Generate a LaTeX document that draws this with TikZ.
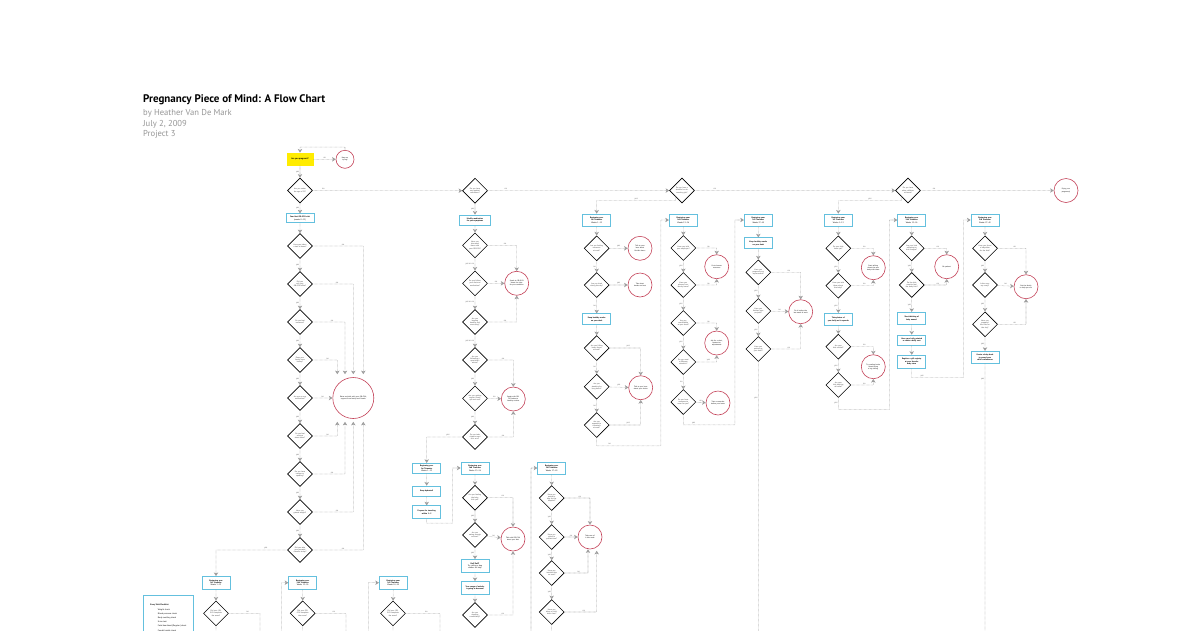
\documentclass[tikz,border=0pt]{standalone}
\usepackage{fontspec}
\setmainfont{PT Sans}
\usetikzlibrary{shapes.geometric,arrows.meta,calc}
\definecolor{cyanb}{RGB}{100,192,222}
\definecolor{redc}{RGB}{196,66,88}
\definecolor{yel}{RGB}{255,236,0}
\definecolor{lgray}{RGB}{155,155,155}
\definecolor{tipg}{RGB}{185,185,185}
\definecolor{subg}{RGB}{150,150,150}
\begin{document}
\begin{tikzpicture}[x=1pt,y=-1pt,
  dia/.style={shape=diamond, draw=black, line width=0.6pt, fill=white, minimum width=25pt, minimum height=25pt, inner sep=0pt, text width=13pt, align=center, font=\fontsize{1.9}{2.2}\selectfont, text=black!75},
  bx/.style={draw=cyanb, line width=0.8pt, fill=white, minimum width=28pt, minimum height=11pt, inner sep=0.5pt, text width=25pt, align=center, font=\fontsize{2}{2.4}\selectfont\bfseries},
  rc/.style={circle, draw=redc, line width=0.6pt, fill=white, minimum size=24pt, inner sep=0pt, text width=15pt, align=center, font=\fontsize{1.8}{2.1}\selectfont},
  ybox/.style={fill=yel, minimum width=27pt, minimum height=13pt, inner sep=0pt, font=\fontsize{2.2}{2.5}\selectfont\bfseries},
  conn/.style={draw=lgray, line width=0.55pt, line cap=round, dash pattern=on 0pt off 1.25pt, -{Stealth[length=3.6pt,width=4.4pt,inset=1pt,color=lgray,fill=tipg]}},
  plain/.style={draw=lgray, line width=0.55pt, line cap=round, dash pattern=on 0pt off 1.25pt},
  lbl/.style={font=\fontsize{2.2}{2.4}\selectfont, text=black!60, inner sep=0.6pt},
  ttl/.style={anchor=base west, inner sep=0pt, font=\fontsize{11}{12}\selectfont\bfseries},
  sub/.style={anchor=base west, inner sep=0pt, text=subg, font=\fontsize{8.6}{9}\selectfont}]
\useasboundingbox (0,0) rectangle (1200,630);
\clip (0,0) rectangle (1200,630);
\fill[white] (0,0) rectangle (1200,630);

% header
\node[ttl] (title) at (143,102.5) {Pregnancy Piece of Mind: A Flow Chart};
\node[sub] (by) at (143,115.5) {by Heather Van De Mark};
\node[sub] (date) at (143,126) {July 2, 2009};
\node[sub] (proj) at (143,136) {Project 3};

% start
\node[ybox] (s0) at (300,159.3) {Are you pregnant?};
\node[rc, minimum size=18pt, text width=11pt] (c0) at (345,159.3) {Keep on trying!};
\draw[conn] (s0) -- node[lbl,above]{no} (c0);
\draw[conn] (c0.north) |- ([yshift=5.5pt]s0.north) -- (s0.north);
\node[dia] (d0) at (300,190.5) {Are you under the age of 35?};
\draw[conn] (s0) -- node[lbl,left]{yes} (d0);
\node[bx, minimum height=9pt] (b0) at (300,218.3) {Your first OB-GYN visit\\ \mdseries (weeks 8--12)};
\draw[conn] (d0) -- node[lbl,left]{yes} (b0);

% main chain
\node[dia] (q1) at (300,246) {Have you taken a test at home?};
\node[dia] (q2) at (300,284) {Did you call your OB-GYN office?};
\node[dia] (q3) at (300,322) {Do you feel nauseous?};
\node[dia] (q4) at (300,360) {Does your family have history?};
\node[dia] (q5) at (300,398) {Are you on any medication?};
\node[dia] (q6) at (300,436) {Do you feel anxious about labor?};
\node[dia] (q7) at (300,474) {Do you have cramps or spotting?};
\node[dia] (q8) at (300,512) {Have you gained weight?};
\node[dia] (q9) at (300,550) {Did you take your prenatal vitamins today?};
\node[rc, minimum size=41pt, text width=30pt] (BC) at (353.3,398) {Relax and talk with your OB-GYN; support from family and friends};
\draw[conn] (b0) -- (q1);
\draw[conn] (q1) -- node[lbl,left]{yes} (q2);
\draw[conn] (q2) -- node[lbl,left]{yes} (q3);
\draw[conn] (q3) -- node[lbl,left]{yes} (q4);
\draw[conn] (q4) -- node[lbl,left]{yes} (q5);
\draw[conn] (q5) -- node[lbl,left]{yes} (q6);
\draw[conn] (q6) -- node[lbl,left]{yes} (q7);
\draw[conn] (q7) -- node[lbl,left]{yes} (q8);
\draw[conn] (q8) -- node[lbl,left]{yes} (q9);
\draw[conn] (q1.east) -| node[lbl,above,pos=0.3]{no} ([xshift=10pt,yshift=3pt]BC.north);
\draw[conn] (q2.east) -| node[lbl,above,pos=0.3]{no} ([yshift=3pt]BC.north);
\draw[conn] (q3.east) -| node[lbl,above,pos=0.3]{no} ([xshift=-8.3pt,yshift=3pt]BC.north);
\draw[conn] (q4.east) -| node[lbl,above,pos=0.3]{no} ([xshift=-16pt,yshift=3pt]BC.north);
\draw[conn] (q5) -- node[lbl,above]{no} (BC);
\draw[conn] (q6.east) -| node[lbl,above,pos=0.3]{no} ([xshift=-16pt,yshift=-3pt]BC.south);
\draw[conn] (q7.east) -| node[lbl,above,pos=0.3]{no} ([xshift=-8.3pt,yshift=-3pt]BC.south);
\draw[conn] (q8.east) -| node[lbl,above,pos=0.3]{no} ([yshift=-3pt]BC.south);
\draw[conn] (q9.east) -| node[lbl,above,pos=0.3]{no} ([xshift=10pt,yshift=-3pt]BC.south);

% bottom row
\node[bx, minimum height=12.5pt] (L1) at (216,582.7) {Beginning your 1st Trimester\\ \mdseries Weeks 1--13};
\node[bx, minimum height=12.5pt] (L2) at (302.7,582.7) {Beginning your 2nd Trimester\\ \mdseries Weeks 13--26};
\node[bx, minimum height=12.5pt] (L3) at (393.3,582.7) {Beginning your 3rd Trimester\\ \mdseries Weeks 26--40};
\node[dia] (LD1) at (216,613.3) {Did your OB-GYN complete the exam?};
\node[dia] (LD2) at (302.7,613.3) {Did your OB-GYN complete the exam?};
\node[dia] (LD3) at (393,613.3) {Did your OB-GYN complete the exam?};
\draw[conn] (q9.west) -| node[lbl,above,pos=0.15]{yes} (L1.north);
\draw[conn] (L1) -- (LD1);
\draw[conn] (L2) -- (LD2);
\draw[conn] (L3) -- (LD3);
\coordinate (e1) at (260,640);
\coordinate (e2) at (346,640);
\coordinate (e3) at (440,640);
\draw[plain] (LD1.east) -| node[lbl,above,pos=0.3]{no} (e1);
\draw[plain] (LD2.east) -| node[lbl,above,pos=0.3]{no} (e2);
\draw[plain] (LD3.east) -| node[lbl,above,pos=0.3]{no} (e3);
\coordinate (i2) at (281.7,640);
\coordinate (i3) at (368.3,640);
\draw[conn] (i2) |- (L2.west);
\draw[conn] (i3) |- (L3.west);
\draw[plain] (LD1.south) -- ++(0,20);
\draw[plain] (LD2.south) -- ++(0,20);
\draw[plain] (LD3.south) -- ++(0,20);
\node[draw=cyanb, line width=0.8pt, fill=white, anchor=north west, minimum width=50.5pt, minimum height=45pt, inner sep=2.3pt, align=left, font=\fontsize{2.1}{4.2}\selectfont] (LB) at (142.7,595) {\textbf{Every Visit Checklist}\\
\hspace*{7.5pt}Weight check\\
\hspace*{7.5pt}Blood pressure check\\
\hspace*{7.5pt}Body swelling check\\
\hspace*{7.5pt}Urine test\\
\hspace*{7.5pt}Fetal heartbeat (Doppler) check\\
\hspace*{7.5pt}Fundal height check};

% column T
\node[dia] (T1) at (475,190.7) {Do you have any medical conditions?};
\node[bx, minimum height=10pt, minimum width=31pt, text width=28pt] (Tb) at (475,220) {Modify medication\\for your symptoms};
\draw[conn] (d0) -- node[lbl,above,pos=0.07]{no} (T1);
\draw[conn] (T1) -- node[lbl,left]{yes} (Tb);
\node[dia] (Tq1) at (475,245.3) {Have you discussed them with your OB-GYN?};
\node[dia] (Tq2) at (475,283.3) {Do you follow your diet and medication?};
\node[dia] (Tq3) at (475,322) {Are you keeping healthy and exercising?};
\node[dia] (Tq4) at (475,360) {Are you following a specialist's advice?};
\node[dia] (Tq5) at (475,398.3) {Are you getting regular check-ups and rest?};
\node[dia] (Tq6) at (475,437) {Do you take vitamins and folic acid?};
\node[rc] (Tc1) at (516.7,283.3) {Speak to OB-GYN about the risks for your condition};
\node[rc] (Tc2) at (513.3,399) {Speak with OB-GYN about a healthy routine};
\draw[conn] (Tb) -- (Tq1);
\draw[conn] (Tq1) -- node[lbl,left]{yes or no} (Tq2);
\draw[conn] (Tq2) -- node[lbl,left]{yes or no} (Tq3);
\draw[conn] (Tq3) -- node[lbl,left]{yes or no} (Tq4);
\draw[conn] (Tq4) -- node[lbl,left]{yes} (Tq5);
\draw[conn] (Tq5) -- node[lbl,left]{yes} (Tq6);
\draw[conn] (Tq1.east) -| node[lbl,above,pos=0.3]{no} (Tc1.north);
\draw[conn] (Tq2) -- node[lbl,above]{no} (Tc1);
\draw[conn] (Tq3.east) -| node[lbl,above,pos=0.3]{no} (Tc1.south);
\draw[conn] (Tq4.east) -| node[lbl,above,pos=0.3]{no} (Tc2.north);
\draw[conn] (Tq5) -- node[lbl,above]{no} (Tc2);
\draw[conn] (Tq6.east) -| node[lbl,above,pos=0.3]{no} (Tc2.south);

% column V
\node[bx, minimum height=10pt] (V1) at (426.7,468.3) {Beginning your 1st Trimester\\ \mdseries Weeks 1--13};
\node[bx, minimum height=10pt] (V2) at (426.7,491) {Keep hydrated!};
\node[bx, minimum height=13pt] (V3) at (426.7,512.3) {Prepare for traveling\\within 1--2};
\draw[conn] (Tq6.west) -| node[lbl,above,pos=0.2]{yes} (V1.north);
\draw[conn] (V1) -- (V2);
\draw[conn] (V2) -- (V3);

% column W
\node[bx, minimum height=12pt] (W1) at (475,468) {Beginning your 2nd Trimester\\ \mdseries Weeks 13--26};
\draw[conn] (V3.south) -- ++(0,4) -| ($(W1.west)+(-8,0)$) -- (W1.west);
\node[dia] (Wq1) at (475,497.7) {Are you feeling the baby kick yet?};
\node[dia] (Wq2) at (475,535) {Are you eating enough calcium?};
\node[rc] (Wc) at (513,539) {Talk with OB-GYN about your diet};
\node[bx, minimum height=13pt] (Wb1) at (475,566) {Ruff Ruff?\\ \mdseries Try calling a dog walker for help};
\node[bx, minimum height=13pt] (Wb2) at (475,588) {Your range of activity is going to decrease};
\node[dia] (Wq3) at (475,615) {Are you sleeping comfortably?};
\draw[conn] (W1) -- (Wq1);
\draw[conn] (Wq1) -- node[lbl,left]{yes} (Wq2);
\draw[conn] (Wq2) -- node[lbl,left]{yes} (Wb1);
\draw[conn] (Wb1) -- (Wb2);
\draw[conn] (Wb2) -- (Wq3);
\draw[conn] (Wq1.east) -| node[lbl,above,pos=0.3]{no} (Wc.north);
\draw[conn] (Wq2) -- node[lbl,above]{no} (Wc);
\draw[conn] (Wq3.east) -| node[lbl,above,pos=0.3]{no} (Wc.south);

% column X
\node[bx, minimum height=12pt] (X1) at (551.7,468) {Beginning your 3rd Trimester\\ \mdseries Weeks 27--40};
\coordinate (ix) at (531,640);
\draw[conn] (ix) |- (X1.west);
\node[dia] (Xq1) at (551.7,498) {Have you packed a bag for the hospital?};
\node[dia] (Xq2) at (551.7,537) {Have you picked a pediatrician?};
\node[dia] (Xq3) at (551.7,573) {Have you installed the car seat?};
\node[dia] (Xq4) at (551.7,612) {Have you taken a childbirth class?};
\node[rc] (Xc) at (590,537) {Take care of it this week};
\draw[conn] (X1) -- (Xq1);
\draw[conn] (Xq1) -- node[lbl,left]{yes} (Xq2);
\draw[conn] (Xq2) -- node[lbl,left]{yes} (Xq3);
\draw[conn] (Xq3) -- node[lbl,left]{yes} (Xq4);
\draw[conn] (Xq1.east) -| node[lbl,above,pos=0.3]{no} (Xc.north);
\draw[conn] (Xq2) -- node[lbl,above]{no} (Xc);
\draw[conn] (Xq3.east) -| node[lbl,above,pos=0.3]{no} ([xshift=-2pt]Xc.south);
\draw[conn] (Xq4.east) -| node[lbl,above,pos=0.3]{no} ([xshift=6.7pt,yshift=-1.5pt]Xc.south);
\draw[plain] (Xq4.south) -- ++(0,20);

% top row
\node[dia] (U1) at (682,190.5) {Do you have a stressful or demanding job?};
\node[dia] (Y1) at (908,190.5) {Do you have other children at home?};
\node[rc] (Yc) at (1066,190.5) {Enjoy your pregnancy!};
\draw[conn] (T1) -- node[lbl,above,pos=0.1]{no} (U1);
\draw[conn] (U1) -- node[lbl,above,pos=0.1]{no} (Y1);
\draw[conn] (Y1) -- node[lbl,above,pos=0.1]{no} (Yc);

% column A
\node[bx, minimum height=12pt] (A1) at (596.7,220) {Beginning your 1st Trimester\\ \mdseries Weeks 1--13};
\draw[conn] (U1.south west) |- node[lbl,above,pos=0.75]{yes} ([yshift=13pt]A1.north) -- (A1.north);
\node[dia] (Aq1) at (596.7,248.3) {Are you feeling nauseous at work?};
\node[dia] (Aq2) at (596.7,285) {Are you tired during the day?};
\node[bx, minimum height=11pt] (A2) at (596.7,319.3) {Keep healthy snacks\\on your desk};
\node[dia] (Aq3) at (596.7,348) {Are you lifting heavy items at work?};
\node[dia] (Aq4) at (596.7,386.7) {Are you standing for long hours?};
\node[dia] (Aq5) at (596.7,425) {Are you exposed to chemicals at work?};
\node[rc] (Ac1) at (640,248.3) {Talk to your boss about flexible hours};
\node[rc] (Ac2) at (640,285) {Take short breaks and rest};
\node[rc] (Ac3) at (640.7,387.7) {Talk to your boss about your duties};
\draw[conn] (A1) -- (Aq1);
\draw[conn] (Aq1) -- node[lbl,left]{no} (Aq2);
\draw[conn] (Aq2) -- node[lbl,left]{no} (A2);
\draw[conn] (A2) -- (Aq3);
\draw[conn] (Aq3) -- node[lbl,left]{no} (Aq4);
\draw[conn] (Aq4) -- node[lbl,left]{no} (Aq5);
\draw[conn] (Aq1) -- node[lbl,above]{yes} (Ac1);
\draw[conn] (Aq2) -- node[lbl,above]{yes} (Ac2);
\draw[conn] (Aq3.east) -| node[lbl,above,pos=0.3]{yes} (Ac3.north);
\draw[conn] (Aq4) -- node[lbl,above]{yes} (Ac3);
\draw[conn] (Aq5.east) -| node[lbl,above,pos=0.3]{yes} (Ac3.south);

% column B
\node[bx, minimum height=12pt] (B1) at (683.3,220) {Beginning your 2nd Trimester\\ \mdseries Weeks 13--26};
\draw[conn] (Aq5.south) -- ++(0,8) -| node[lbl,above,pos=0.1]{no} ($(B1.west)+(-8,0)$) -- (B1.west);
\node[dia] (Bq1) at (683.3,248) {Have you told your employer?};
\node[dia] (Bq2) at (683.3,285) {Have you planned maternity leave?};
\node[dia] (Bq3) at (683.3,323) {Are you comfortable at your desk?};
\node[dia] (Bq4) at (683.3,362) {Do you need a different schedule?};
\node[dia] (Bq5) at (683.3,402) {Do you have someone to cover for you?};
\node[rc] (Bc1) at (716.7,266.7) {Go to human resources};
\node[rc] (Bc2) at (716.7,343) {Ask for a chair, footrest or adjustments};
\node[rc] (Bc3) at (718,403) {Train a coworker before your leave};
\draw[conn] (B1) -- (Bq1);
\draw[conn] (Bq1) -- node[lbl,left]{yes} (Bq2);
\draw[conn] (Bq2) -- node[lbl,left]{yes} (Bq3);
\draw[conn] (Bq3) -- node[lbl,left]{yes} (Bq4);
\draw[conn] (Bq4) -- node[lbl,left]{no} (Bq5);
\draw[conn] (Bq1.east) -| node[lbl,above,pos=0.3]{no} (Bc1.north);
\draw[conn] (Bq2.east) -| node[lbl,above,pos=0.3]{no} (Bc1.south);
\draw[conn] (Bq3.east) -| node[lbl,above,pos=0.3]{no} (Bc2.north);
\draw[conn] (Bq4.east) -| node[lbl,above,pos=0.3]{yes} (Bc2.south);
\draw[conn] (Bq5) -- node[lbl,above]{no} (Bc3);

% column C
\node[bx, minimum height=12pt] (C1) at (758.3,220) {Beginning your 3rd Trimester\\ \mdseries Weeks 27--40};
\draw[conn] (Bq5.south) -- ++(0,10) -| node[lbl,above,pos=0.1]{yes} ($(C1.west)+(-9,0)$) -- (C1.west);
\node[bx, minimum height=11pt] (C2) at (758.3,243.3) {Keep healthy snacks\\on your desk};
\node[dia] (Cq1) at (758.3,272.3) {Have you prepared your replacement?};
\node[dia] (Cq2) at (758.3,311) {Have you finished your projects?};
\node[dia] (Cq3) at (758.3,349) {Have you packed up your desk?};
\node[rc] (Cc) at (800.7,311.7) {Do it before the last week of work};
\draw[conn] (C1) -- (C2);
\draw[conn] (C2) -- (Cq1);
\draw[conn] (Cq1) -- node[lbl,left]{yes} (Cq2);
\draw[conn] (Cq2) -- node[lbl,left]{yes} (Cq3);
\draw[conn] (Cq1.east) -| node[lbl,above,pos=0.3]{no} (Cc.north);
\draw[conn] (Cq2) -- node[lbl,above]{no} (Cc);
\draw[conn] (Cq3.east) -| node[lbl,above,pos=0.3]{no} (Cc.south);
\draw[plain] (Cq3.south) -- node[lbl,left,pos=0.12]{yes} ++(0,300);

% column D
\node[bx, minimum height=12pt] (D1) at (838.3,220) {Beginning your 1st Trimester\\ \mdseries Weeks 1--13};
\draw[conn] (Y1.south west) |- node[lbl,above,pos=0.75]{yes} ([yshift=13pt]D1.north) -- (D1.north);
\node[dia] (Dq1) at (838.3,248.3) {Do your kids know yet?};
\node[dia] (Dq2) at (838.3,285.7) {Have you told them about the baby?};
\node[bx, minimum height=12pt] (D2) at (838.3,319.3) {Take photos of\\your belly as it expands};
\node[dia] (Dq3) at (838.3,346.7) {Are your kids excited?};
\node[dia] (Dq4) at (838.3,385) {Are your kids helping at home?};
\node[rc] (Dc1) at (873.3,267.7) {Start talking about the new baby with them};
\node[rc] (Dc2) at (873.3,366.7) {Try reading books about being a big sibling};
\draw[conn] (D1) -- (Dq1);
\draw[conn] (Dq1) -- node[lbl,left]{yes} (Dq2);
\draw[conn] (Dq2) -- node[lbl,left]{yes} (D2);
\draw[conn] (D2) -- (Dq3);
\draw[conn] (Dq3) -- node[lbl,left]{yes} (Dq4);
\draw[conn] (Dq1.east) -| node[lbl,above,pos=0.3]{no} (Dc1.north);
\draw[conn] (Dq2.east) -| node[lbl,above,pos=0.3]{no} (Dc1.south);
\draw[conn] (Dq3.east) -| node[lbl,above,pos=0.3]{no} (Dc2.north);
\draw[conn] (Dq4.east) -| node[lbl,above,pos=0.3]{no} (Dc2.south);

% column E
\node[bx, minimum height=12pt] (E1) at (911.7,220) {Beginning your 2nd Trimester\\ \mdseries Weeks 13--26};
\draw[conn] (Dq4.south) -- node[lbl,left,pos=0.5]{yes} ++(0,11.5) -| ($(E1.west)+(-8,0)$) -- (E1.west);
\node[dia] (Eq1) at (911.7,248.3) {Are your kids adjusting to the changes?};
\node[dia] (Eq2) at (911.7,285) {Do the kids want to feel the baby kick?};
\node[bx, minimum height=12pt] (E2) at (911.7,318.3) {Start thinking of\\baby names!};
\node[bx, minimum height=10pt] (E3) at (911.7,340) {Have your belly painted\\or make a belly cast};
\node[bx, minimum height=13pt] (E4) at (911.7,361.7) {Register a gift registry\\at your favorite\\baby store};
\node[rc] (Ec) at (946.7,266.7) {Be patient};
\draw[conn] (E1) -- (Eq1);
\draw[conn] (Eq1) -- node[lbl,left]{yes} (Eq2);
\draw[conn] (Eq2) -- node[lbl,left]{yes} (E2);
\draw[conn] (E2) -- (E3);
\draw[conn] (E3) -- (E4);
\draw[conn] (Eq1.east) -| node[lbl,above,pos=0.3]{no} (Ec.north);
\draw[conn] (Eq2.east) -| node[lbl,above,pos=0.3]{no} (Ec.south);

% column F
\node[bx, minimum height=12pt] (F1) at (985,220) {Beginning your 3rd Trimester\\ \mdseries Weeks 27--40};
\draw[conn] (E4.south) -- ++(0,9) -| node[lbl,above,pos=0.1]{yes} ($(F1.west)+(-7,0)$) -- (F1.west);
\node[dia] (Fq1) at (985,248.3) {Have you found a babysitter for the kids?};
\node[dia] (Fq2) at (985,285) {Is the nursery ready?};
\node[dia] (Fq3) at (985,324.3) {Have you prepared the kids for the day?};
\node[bx, minimum height=12pt] (F2) at (985,357.3) {Create a baby book to record your child's milestones};
\node[rc] (Fc) at (1026,286.7) {Get the family to help you out};
\draw[conn] (F1) -- (Fq1);
\draw[conn] (Fq1) -- node[lbl,left]{yes} (Fq2);
\draw[conn] (Fq2) -- node[lbl,left]{yes} (Fq3);
\draw[conn] (Fq3) -- node[lbl,left]{yes} (F2);
\draw[conn] (Fq1.east) -| node[lbl,above,pos=0.3]{no} (Fc.north);
\draw[conn] (Fq2) -- node[lbl,above]{no} (Fc);
\draw[conn] (Fq3.east) -| node[lbl,above,pos=0.3]{no} (Fc.south);
\draw[plain] (F2.south) -- node[lbl,left,pos=0.05]{yes} ++(0,300);
\end{tikzpicture}
\end{document}
